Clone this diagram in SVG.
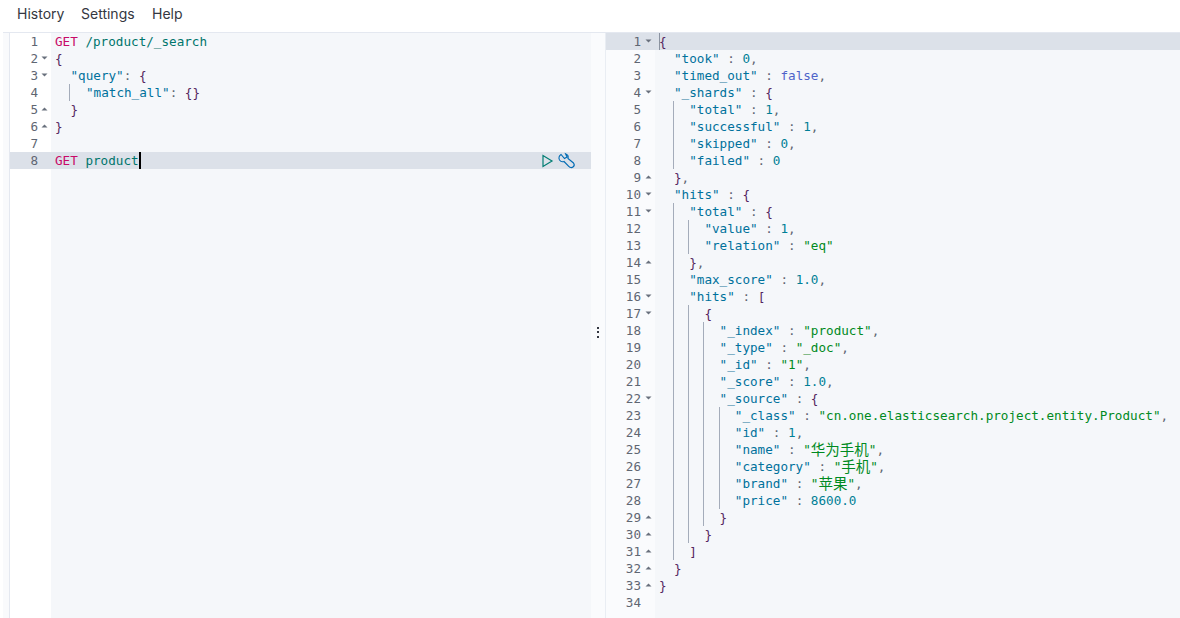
<svg xmlns="http://www.w3.org/2000/svg" width="1180" height="618" viewBox="0 0 1180 618">
<style>
.menu{font-family:Inter,"Liberation Sans",sans-serif;font-size:14px;fill:#343741}
.c{font-family:"DejaVu Sans Mono","Noto Sans CJK SC",monospace;font-size:12.64px;fill:#343741;white-space:pre}
.n{font-family:"DejaVu Sans Mono",monospace;font-size:12.64px;fill:#5f6672;text-anchor:end}
.g{stroke:#a4acba;stroke-width:1;fill:none}
.f{fill:#69707d}
.v{fill:#00719c}.s{fill:#008a22}.d{fill:#007f96}.b{fill:#4f63c9}.p{fill:#5f6672}.r{fill:#54265f}.m{fill:#c80a68}.u{fill:#00756c}
.h{font-family:"Noto Sans CJK SC",sans-serif;font-size:14.5px}
</style>
<defs>
<path id="dn" d="M-3 -1.5H3L0 1.5Z"/>
<path id="up" d="M-3 1.5H3L0 -1.5Z"/>
</defs>
<rect width="1180" height="618" fill="#fff"/>
<g id="menu">
<text class="menu" x="17" y="19">History</text>
<text class="menu" x="81" y="19">Settings</text>
<text class="menu" x="152" y="19">Help</text>
</g>
<g id="backgrounds">
<rect x="3" y="32" width="7" height="586" fill="#f9fafc"/>
<rect x="10" y="32" width="581" height="586" fill="#fff"/>
<rect x="51" y="33" width="540" height="585" fill="#f5f7fa"/>
<rect x="591" y="32" width="15" height="586" fill="#fafbfd"/>
<rect x="606" y="33" width="49" height="585" fill="#fafbfd"/>
<rect x="655" y="33" width="525" height="585" fill="#f5f7fa"/>
<rect x="3" y="32" width="1177" height="1" fill="#e4e8f0"/>
<rect x="9" y="33" width="1" height="585" fill="#e4e8f0"/>
<rect x="605" y="33" width="1" height="585" fill="#e9edf3"/>
<rect x="10" y="152" width="581" height="17" fill="#dce1e9"/>
<rect x="606" y="33" width="574" height="17" fill="#dce1e9"/>
<rect x="659" y="33" width="1" height="17" fill="#8b93a1"/>
</g>
<g id="handle" fill="#343741">
<rect x="597" y="327" width="2" height="2"/><rect x="597" y="331" width="2" height="2"/><rect x="597" y="336" width="2" height="2"/>
</g>
<g id="left-editor">
<g id="left-gutter">
<text class="n" x="38" y="46">1</text><text class="n" x="38" y="63">2</text><text class="n" x="38" y="80">3</text><text class="n" x="38" y="97">4</text><text class="n" x="38" y="114">5</text><text class="n" x="38" y="131">6</text><text class="n" x="38" y="148">7</text><text class="n" x="38" y="165">8</text>
<g class="f"><use href="#dn" x="44.5" y="58"/><use href="#dn" x="44.5" y="75"/><use href="#up" x="44.5" y="109"/><use href="#up" x="44.5" y="126"/></g>
</g>
<path class="g" d="M69.5 84V101"/>
<text class="c" x="55" y="46"><tspan class="m">GET</tspan> <tspan class="u">/product/_search</tspan></text>
<text class="c r" x="55" y="63">{</text>
<text class="c" x="70.500" y="80"><tspan class="v">"query"</tspan><tspan class="p">:</tspan> <tspan class="r">{</tspan></text>
<text class="c" x="86" y="97"><tspan class="v">"match_all"</tspan><tspan class="p">:</tspan> <tspan class="r">{}</tspan></text>
<text class="c r" x="70.500" y="114">}</text>
<text class="c r" x="55" y="131">}</text>
<text class="c" x="55" y="165"><tspan class="m">GET</tspan> <tspan class="u">product</tspan></text>
<rect x="139" y="152" width="2" height="17" fill="#000"/>
</g>
<g id="actions">
<path d="M543 155.500V166.500L552 161Z" fill="none" stroke="#017d73" stroke-width="1.200"/>
<path d="M561 154.500a4 4 0 0 0 -1.500 5.500a4 4 0 0 0 4.500 1.500l5 5a2.800 2.800 0 0 0 4.500 -3.500l-5.500 -4.500a4 4 0 0 0 -2.500 -4.800l1.500 3.300l-2.500 1.500Z" fill="none" stroke="#006bb4" stroke-width="1.100"/>
</g>
<g id="right-editor">
<g id="right-gutter">
<text class="n" x="641" y="46">1</text><text class="n" x="641" y="63">2</text><text class="n" x="641" y="80">3</text><text class="n" x="641" y="97">4</text><text class="n" x="641" y="114">5</text><text class="n" x="641" y="131">6</text><text class="n" x="641" y="148">7</text><text class="n" x="641" y="165">8</text><text class="n" x="641" y="182">9</text><text class="n" x="641" y="199">10</text><text class="n" x="641" y="216">11</text><text class="n" x="641" y="233">12</text><text class="n" x="641" y="250">13</text><text class="n" x="641" y="267">14</text><text class="n" x="641" y="284">15</text><text class="n" x="641" y="301">16</text><text class="n" x="641" y="318">17</text><text class="n" x="641" y="335">18</text><text class="n" x="641" y="352">19</text><text class="n" x="641" y="369">20</text><text class="n" x="641" y="386">21</text><text class="n" x="641" y="403">22</text><text class="n" x="641" y="420">23</text><text class="n" x="641" y="437">24</text><text class="n" x="641" y="454">25</text><text class="n" x="641" y="471">26</text><text class="n" x="641" y="488">27</text><text class="n" x="641" y="505">28</text><text class="n" x="641" y="522">29</text><text class="n" x="641" y="539">30</text><text class="n" x="641" y="556">31</text><text class="n" x="641" y="573">32</text><text class="n" x="641" y="590">33</text><text class="n" x="641" y="607">34</text>
<g class="f"><use href="#dn" x="648.500" y="41"/><use href="#dn" x="648.500" y="92"/><use href="#up" x="648.500" y="177"/><use href="#dn" x="648.500" y="194"/><use href="#dn" x="648.500" y="211"/><use href="#up" x="648.500" y="262"/><use href="#dn" x="648.500" y="296"/><use href="#dn" x="648.500" y="313"/><use href="#dn" x="648.500" y="398"/><use href="#up" x="648.500" y="517"/><use href="#up" x="648.500" y="534"/><use href="#up" x="648.500" y="551"/><use href="#up" x="648.500" y="568"/><use href="#up" x="648.500" y="585"/></g>
</g>
<g id="indent-guides">
<path class="g" d="M673.500 101V169M673.500 203V560M688.500 220V254M688.500 305V543M703.500 322V526M719.500 407V509"/>
</g>
<text class="c r" x="659" y="46">{</text>
<text class="c" x="674" y="63"><tspan class="v">"took"</tspan> <tspan class="p">:</tspan> <tspan class="d">0</tspan><tspan class="p">,</tspan></text>
<text class="c" x="674" y="80"><tspan class="v">"timed_out"</tspan> <tspan class="p">:</tspan> <tspan class="b">false</tspan><tspan class="p">,</tspan></text>
<text class="c" x="674" y="97"><tspan class="v">"_shards"</tspan> <tspan class="p">:</tspan> <tspan class="r">{</tspan></text>
<text class="c" x="689.200" y="114"><tspan class="v">"total"</tspan> <tspan class="p">:</tspan> <tspan class="d">1</tspan><tspan class="p">,</tspan></text>
<text class="c" x="689.200" y="131"><tspan class="v">"successful"</tspan> <tspan class="p">:</tspan> <tspan class="d">1</tspan><tspan class="p">,</tspan></text>
<text class="c" x="689.200" y="148"><tspan class="v">"skipped"</tspan> <tspan class="p">:</tspan> <tspan class="d">0</tspan><tspan class="p">,</tspan></text>
<text class="c" x="689.200" y="165"><tspan class="v">"failed"</tspan> <tspan class="p">:</tspan> <tspan class="d">0</tspan></text>
<text class="c" x="674" y="182"><tspan class="r">}</tspan><tspan class="p">,</tspan></text>
<text class="c" x="674" y="199"><tspan class="v">"hits"</tspan> <tspan class="p">:</tspan> <tspan class="r">{</tspan></text>
<text class="c" x="689.200" y="216"><tspan class="v">"total"</tspan> <tspan class="p">:</tspan> <tspan class="r">{</tspan></text>
<text class="c" x="704.400" y="233"><tspan class="v">"value"</tspan> <tspan class="p">:</tspan> <tspan class="d">1</tspan><tspan class="p">,</tspan></text>
<text class="c" x="704.400" y="250"><tspan class="v">"relation"</tspan> <tspan class="p">:</tspan> <tspan class="s">"eq"</tspan></text>
<text class="c" x="689.200" y="267"><tspan class="r">}</tspan><tspan class="p">,</tspan></text>
<text class="c" x="689.200" y="284"><tspan class="v">"max_score"</tspan> <tspan class="p">:</tspan> <tspan class="d">1.0</tspan><tspan class="p">,</tspan></text>
<text class="c" x="689.200" y="301"><tspan class="v">"hits"</tspan> <tspan class="p">:</tspan> <tspan class="r">[</tspan></text>
<text class="c r" x="704.400" y="318">{</text>
<text class="c" x="719.600" y="335"><tspan class="v">"_index"</tspan> <tspan class="p">:</tspan> <tspan class="s">"product"</tspan><tspan class="p">,</tspan></text>
<text class="c" x="719.600" y="352"><tspan class="v">"_type"</tspan> <tspan class="p">:</tspan> <tspan class="s">"_doc"</tspan><tspan class="p">,</tspan></text>
<text class="c" x="719.600" y="369"><tspan class="v">"_id"</tspan> <tspan class="p">:</tspan> <tspan class="s">"1"</tspan><tspan class="p">,</tspan></text>
<text class="c" x="719.600" y="386"><tspan class="v">"_score"</tspan> <tspan class="p">:</tspan> <tspan class="d">1.0</tspan><tspan class="p">,</tspan></text>
<text class="c" x="719.600" y="403"><tspan class="v">"_source"</tspan> <tspan class="p">:</tspan> <tspan class="r">{</tspan></text>
<text class="c" x="734.800" y="420"><tspan class="v">"_class"</tspan> <tspan class="p">:</tspan> <tspan class="s">"cn.one.elasticsearch.project.entity.Product"</tspan><tspan class="p">,</tspan></text>
<text class="c" x="734.800" y="437"><tspan class="v">"id"</tspan> <tspan class="p">:</tspan> <tspan class="d">1</tspan><tspan class="p">,</tspan></text>
<text class="c" x="734.800" y="454"><tspan class="v">"name"</tspan> <tspan class="p">:</tspan> <tspan class="s">"<tspan class="h" dy="1">华为手机</tspan><tspan dy="-1">"</tspan></tspan><tspan class="p">,</tspan></text>
<text class="c" x="734.800" y="471"><tspan class="v">"category"</tspan> <tspan class="p">:</tspan> <tspan class="s">"<tspan class="h" dy="1">手机</tspan><tspan dy="-1">"</tspan></tspan><tspan class="p">,</tspan></text>
<text class="c" x="734.800" y="488"><tspan class="v">"brand"</tspan> <tspan class="p">:</tspan> <tspan class="s">"<tspan class="h" dy="1">苹果</tspan><tspan dy="-1">"</tspan></tspan><tspan class="p">,</tspan></text>
<text class="c" x="734.800" y="505"><tspan class="v">"price"</tspan> <tspan class="p">:</tspan> <tspan class="d">8600.0</tspan></text>
<text class="c r" x="719.600" y="522">}</text>
<text class="c r" x="704.400" y="539">}</text>
<text class="c r" x="689.200" y="556">]</text>
<text class="c r" x="674" y="573">}</text>
<text class="c r" x="659" y="590">}</text>
</g>
</svg>
